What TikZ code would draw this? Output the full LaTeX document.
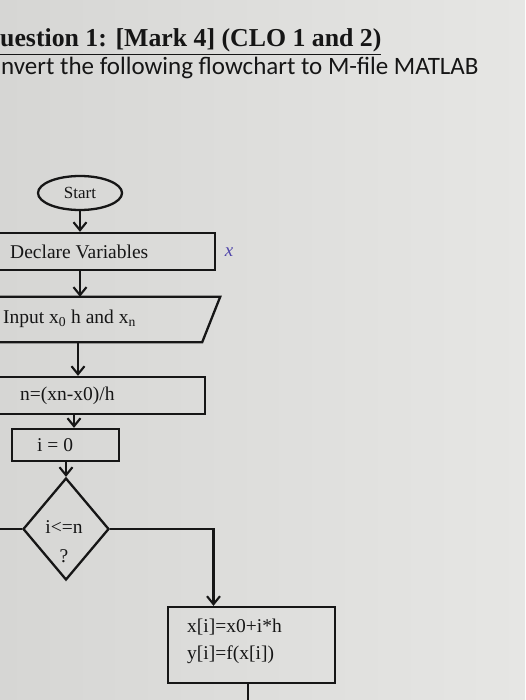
\documentclass[tikz,border=0pt]{standalone}
\usepackage{fontspec}
\setmainfont{Liberation Serif}
\newfontfamily\calfont{Carlito}
\usetikzlibrary{shapes.geometric,arrows.meta}
\definecolor{paperL}{RGB}{214,214,212}
\definecolor{paperR}{RGB}{230,230,228}
\definecolor{ink}{RGB}{22,22,22}
\definecolor{pen}{RGB}{80,70,170}
\tikzset{
  box/.style={draw=ink, line width=2.3pt, rectangle, inner sep=0pt},
  txt/.style={text=ink, font=\fontsize{19.5}{22}\selectfont, inner sep=0pt},
  arr/.style={draw=ink, line width=2.1pt, -{Straight Barb[length=8pt,width=13pt]}},
  ln/.style={draw=ink, line width=2.1pt},
}
\begin{document}
\begin{tikzpicture}[x=1pt,y=-1pt]
\useasboundingbox (0,0) rectangle (525,700);
\clip (0,0) rectangle (525,700);
\shade[left color=paperL, right color=paperR] (0,0) rectangle (525,700);

% header
\node[anchor=base west, inner sep=0pt, text=ink, font=\bfseries\fontsize{25.8}{30}\selectfont] (title) at (0,47) {\underline{uestion 1: [Mark 4] (CLO 1 and 2)}};
\node[anchor=base west, inner sep=0pt, text=ink, font=\calfont\fontsize{25}{29}\selectfont] (instr) at (1,75) {nvert the following flowchart to M-file MATLAB};

% start
\node[draw=ink, ellipse, minimum width=84pt, minimum height=34pt, inner sep=0pt, line width=2.3pt, text=ink, font=\fontsize{17}{20}\selectfont] (start) at (80,193) {Start};

% declare
\node[box, minimum width=216pt, minimum height=37pt] (decl) at (107,251.5) {};
\node[txt, anchor=west] (decltxt) at (10,251.5) {Declare Variables};
\node[text=pen, font=\itshape\fontsize{19}{20}\selectfont, inner sep=0pt] (mark) at (229,252) {x};

% input
\node[minimum width=221pt, minimum height=45pt, inner sep=0pt] (inp) at (109.5,319.5) {};
\draw[ink, line width=2.3pt] (inp.north west) -- (inp.north east) -- ([xshift=-18pt]inp.south east) -- (inp.south west);
\node[txt, anchor=west] (inptxt) at (3,319) {Input x\textsubscript{0} h and x\textsubscript{n}};

% n
\node[box, minimum width=206pt, minimum height=37pt] (nbox) at (102,395.5) {};
\node[txt, anchor=west] (ntxt) at (20,395.5) {n=(xn-x0)/h};

% i = 0
\node[box, minimum width=107pt, minimum height=32pt] (izero) at (65.5,445) {};
\node[txt, anchor=west] (izerotxt) at (37,445) {i = 0};

% decision
\node[draw=ink, diamond, minimum width=86pt, minimum height=102pt, inner sep=0pt, line width=2.3pt] (dia) at (66,529) {};
\node[txt] (cond) at (64,527) {i<=n};
\node[txt] (q) at (64,556) {?};

% x[i] box
\node[box, minimum width=167pt, minimum height=76pt] (xb) at (251.5,645) {};
\node[txt, anchor=west] (xl1) at (187,627) {x[i]=x0+i*h};
\node[txt, anchor=west] (xl2) at (187,655) {y[i]=f(x[i])};

% connectors
\draw[arr] (start.south) -- (start.south |- decl.north);
\draw[arr] (decl.south -| start.south) -- (inp.north -| start.south);
\draw[arr] (inp.south -| 78,0) -- (nbox.north -| 78,0);
\draw[arr] (nbox.south -| 74,0) -- (izero.north -| 74,0);
\draw[arr] (izero.south -| dia.north) -- (dia.north);
\coordinate (lend) at (-5,529);
\draw[ln] (dia.west) -- (lend);
\draw[arr] (dia.east) -| ([xshift=-38pt]xb.north);
\coordinate (bend) at (248,705);
\draw[ln] (xb.south -| bend) -- (bend);
\end{tikzpicture}
\end{document}
